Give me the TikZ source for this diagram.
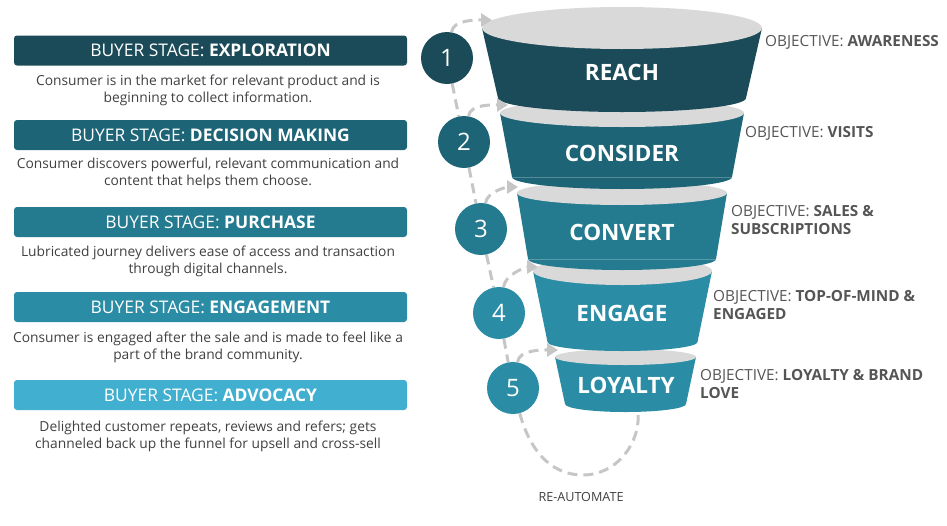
\documentclass[tikz,border=0pt]{standalone}
\usepackage{fontspec}
\setmainfont{Open Sans}
\usetikzlibrary{arrows.meta}
\pgfdeclarelayer{bg}
\pgfsetlayers{bg,main}
\definecolor{cA}{HTML}{1B4B58}
\definecolor{cB}{HTML}{1D6477}
\definecolor{cC}{HTML}{247A8E}
\definecolor{cD}{HTML}{2A8DA5}
\definecolor{cE}{HTML}{41AFD0}
\definecolor{topgray}{HTML}{D9D9D9}
\definecolor{dashgray}{HTML}{C6C6C6}
\definecolor{desctxt}{HTML}{404040}
\definecolor{objtxt}{HTML}{555555}
\newcommand{\funnelseg}[8]{%
  \fill[#8] ({#1-#3},{-#2}) -- ({#1-#6},{-#5})
    arc[start angle=180,end angle=360,x radius=#6pt,y radius=#7pt]
    -- ({#1+#3},{-#2}) -- cycle;
  \fill[topgray] (#1,-#2) ellipse[x radius=#3pt,y radius=#4pt];
}
\begin{document}
\begin{tikzpicture}[x=1pt,y=1pt,
  hdr/.style={rounded corners=3pt,minimum width=393pt,minimum height=30pt,
    text=white,font=\fontsize{17.4}{20}\selectfont,inner sep=0pt},
  desc/.style={align=center,text=desctxt,font=\fontsize{13.8}{17}\selectfont},
  num/.style={circle,minimum size=52pt,inner sep=0pt,text=white,
    font=\fontsize{24}{28}\selectfont},
  seglbl/.style={text=white,font=\bfseries\fontsize{22.5}{26}\selectfont},
  obj/.style={anchor=west,align=left,text=objtxt,inner sep=0pt,
    font=\fontsize{15.3}{18}\selectfont},
  dashline/.style={draw=dashgray,line width=3pt,dash pattern=on 10pt off 6pt},
  dasharr/.style={dashline,-{Triangle[length=11pt,width=13pt]}}]
\useasboundingbox (0,0) rectangle (947,-525);

% left column
\node[hdr,fill=cA] (h1) at (210.5,-50.5) {BUYER STAGE: \textbf{EXPLORATION}};
\node[desc] (d1) at (208,-90.5) {Consumer is in the market for relevant product and is\\beginning to collect information.};
\node[hdr,fill=cB] (h2) at (210.5,-135) {BUYER STAGE: \textbf{DECISION MAKING}};
\node[desc] (d2) at (208,-173.5) {Consumer discovers powerful, relevant communication and\\content that helps them choose.};
\node[hdr,fill=cC] (h3) at (210.5,-222) {BUYER STAGE: \textbf{PURCHASE}};
\node[desc] (d3) at (208,-261.5) {Lubricated journey delivers ease of access and transaction\\through digital channels.};
\node[hdr,fill=cD] (h4) at (210.5,-307) {BUYER STAGE: \textbf{ENGAGEMENT}};
\node[desc] (d4) at (208,-347.5) {Consumer is engaged after the sale and is made to feel like a\\part of the brand community.};
\node[hdr,fill=cE] (h5) at (210.5,-395) {BUYER STAGE: \textbf{ADVOCACY}};
\node[desc] (d5) at (208,-436.5) {Delighted customer repeats, reviews and refers; gets\\channeled back up the funnel for upsell and cross-sell};

% funnel (bottom to top)
\funnelseg{625.5}{357}{70.5}{8}{404}{60.5}{8}{cD}
\funnelseg{622.5}{271}{89.5}{14}{342}{75}{9}{cD}
\funnelseg{622}{193}{105}{12}{259}{94}{11}{cC}
\draw[white,opacity=0.25,line width=0.6pt] (528,-259) -- (716,-259);
\funnelseg{622}{113}{122}{14}{177}{110}{12}{cB}
\draw[white,opacity=0.25,line width=0.6pt] (512,-177) -- (732,-177);
\funnelseg{622}{28}{140}{21}{98}{124}{14}{cA}

\node[seglbl] (s1) at (622,-72) {REACH};
\node[seglbl] (s2) at (622,-153) {CONSIDER};
\node[seglbl] (s3) at (622,-232) {CONVERT};
\node[seglbl] (s4) at (622,-313) {ENGAGE};
\node[seglbl] (s5) at (626,-385) {LOYALTY};

% objectives
\node[obj] (o1) at (765,-42) {OBJECTIVE: \textbf{AWARENESS}};
\node[obj] (o2) at (745,-133) {OBJECTIVE: \textbf{VISITS}};
\node[obj] (o3) at (731,-220) {OBJECTIVE: \textbf{SALES \&}\\\textbf{SUBSCRIPTIONS}};
\node[obj] (o4) at (713,-305) {OBJECTIVE: \textbf{TOP-OF-MIND \&}\\\textbf{ENGAGED}};
\node[obj] (o5) at (700,-384) {OBJECTIVE: \textbf{LOYALTY \& BRAND}\\\textbf{LOVE}};

% circles
\node[num,fill=cA] (c1) at (447,-58) {1};
\node[num,fill=cB] (c2) at (464,-142) {2};
\node[num,fill=cC] (c3) at (481,-229) {3};
\node[num,fill=cD] (c4) at (499,-313) {4};
\node[num,fill=cD] (c5) at (513,-388) {5};

\coordinate (t1) at (492,-20);
\coordinate (t2) at (508,-105);
\coordinate (t3) at (518,-187);
\coordinate (t4) at (538,-267);
\coordinate (t5) at (558,-350);
\coordinate (lb) at (583,-475);
\coordinate (l5) at (638,-411);

\begin{pgfonlayer}{bg}
\draw[dashline] (c1) -- (c2);
\draw[dashline] (c2) -- (c3);
\draw[dashline] (c3) -- (c4);
\draw[dashline] (c4) -- (c5);
\end{pgfonlayer}
\draw[dasharr] (c1.80) to[out=85,in=180,looseness=0.8] (t1);
\draw[dasharr] (c2.80) to[out=85,in=180,looseness=0.8] (t2);
\draw[dasharr] (c3.80) to[out=85,in=180,looseness=0.8] (t3);
\draw[dasharr] (c4.80) to[out=85,in=180,looseness=0.8] (t4);
\draw[dasharr] (c5.80) to[out=85,in=180,looseness=0.8] (t5);
\draw[dashline] (c5.-75) to[out=-75,in=180] (lb) to[out=0,in=-85] (l5);

\node[text=desctxt,font=\fontsize{12.6}{14}\selectfont] (ra) at (581,-497) {RE-AUTOMATE};
\end{tikzpicture}
\end{document}
